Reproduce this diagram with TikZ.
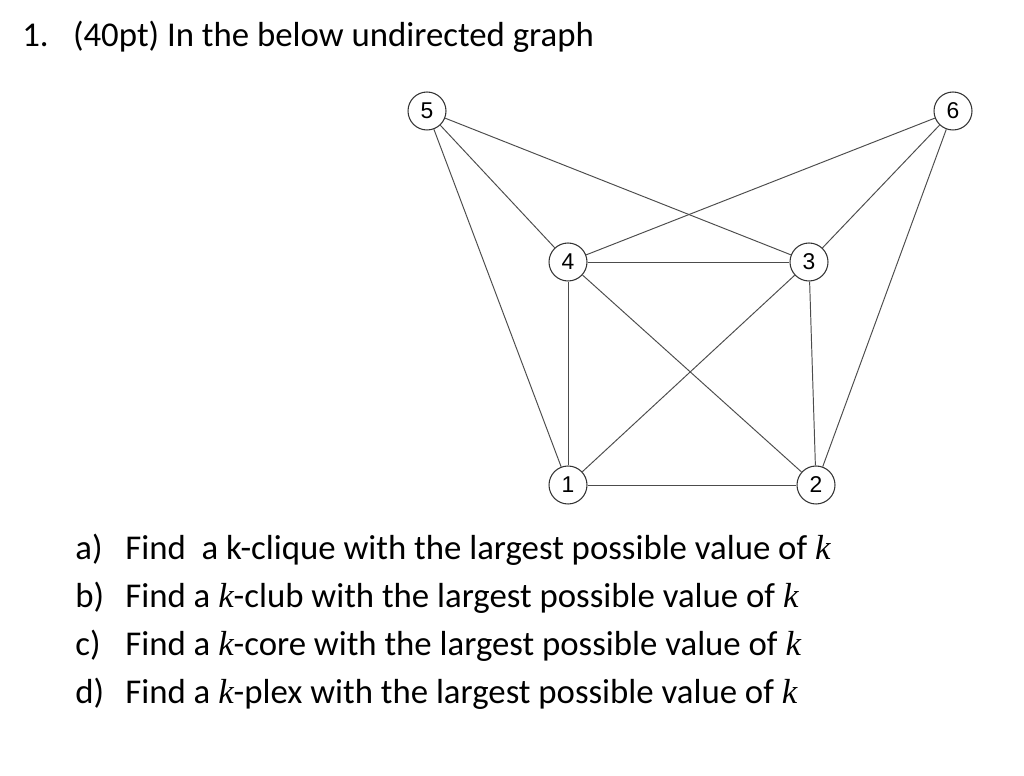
\documentclass[tikz,border=0pt]{standalone}
\usepackage{fontspec}
\setmainfont{Carlito}
\newfontfamily\nodefont{Liberation Sans}
\newfontfamily\kfont{Liberation Serif}
\begin{document}
\begin{tikzpicture}[x=0.02cm,y=-0.02cm,
  vtx/.style={circle,draw=black!80,line width=0.6pt,fill=white,minimum size=0.76cm,inner sep=0pt,font=\nodefont\fontsize{13}{15}\selectfont},
  edge/.style={draw=black!70,line width=0.55pt},
  txt/.style={anchor=base west,inner sep=0pt,font=\fontsize{19.8}{24}\selectfont}]
\useasboundingbox (0,0) rectangle (1024,776);
\node[vtx] (n5) at (427,111) {5};
\node[vtx] (n6) at (953,111) {6};
\node[vtx] (n4) at (568,262) {4};
\node[vtx] (n3) at (809,262) {3};
\node[vtx] (n1) at (568,485) {1};
\node[vtx] (n2) at (816,485) {2};
\foreach \a/\b in {n5/n4,n5/n3,n5/n1,n6/n4,n6/n3,n6/n2,n4/n3,n4/n1,n4/n2,n3/n1,n3/n2,n1/n2}
  \draw[edge] (\a) -- (\b);
\node[txt] (t0) at (22,47) {1.\hspace{0.7em}(40pt) In the below undirected graph};
\newcommand{\kk}{{\kfont\itshape k}}
\node[txt] (la) at (75,559) {a)};
\node[txt] (ta) at (125,559) {Find\ \ a k-clique with the largest possible value of \kk};
\node[txt] (lb) at (75,607) {b)};
\node[txt] (tb) at (125,607) {Find a \kk-club with the largest possible value of \kk};
\node[txt] (lc) at (75,655) {c)};
\node[txt] (tc) at (125,655) {Find a \kk-core with the largest possible value of \kk};
\node[txt] (ld) at (75,703) {d)};
\node[txt] (td) at (125,703) {Find a \kk-plex with the largest possible value of \kk};
\end{tikzpicture}
\end{document}
